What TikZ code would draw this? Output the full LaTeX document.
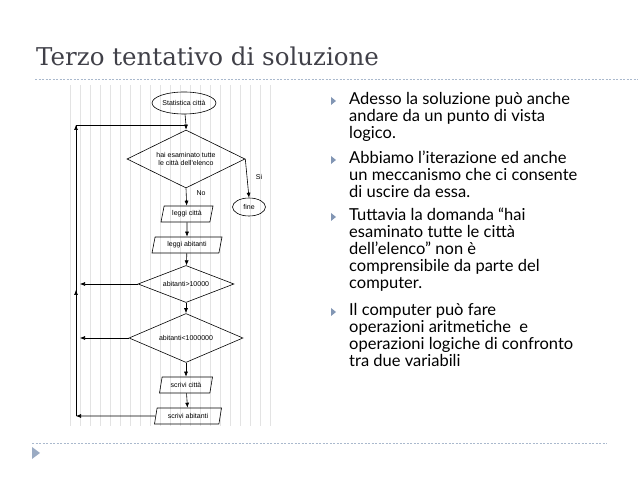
\documentclass[tikz,border=0pt]{standalone}
\usepackage{fontspec}
\setmainfont{DejaVu Serif}
\newfontfamily\bodyf{Lato}
\newfontfamily\flowf{Liberation Sans}
\usetikzlibrary{shapes.geometric,arrows.meta}
\definecolor{titlec}{RGB}{64,64,72}
\definecolor{linec}{RGB}{170,185,205}
\definecolor{bulc}{RGB}{130,150,180}
\begin{document}
\begin{tikzpicture}[x=1pt,y=-1pt,
  fl/.style={font=\flowf\fontsize{7}{8}\selectfont,draw=black,line width=0.6pt,inner sep=1pt},
  ov/.style={fl,ellipse,minimum width=#1,minimum height=22pt},
  para/.style={fl,trapezium,trapezium left angle=70,trapezium right angle=110,trapezium stretches body,minimum height=16pt,minimum width=#1,inner xsep=0pt},
  dia/.style={fl,diamond,aspect=2.6,inner sep=0pt},
  ar/.style={-{Latex[length=5pt,width=4pt]},line width=0.6pt},
  ln/.style={line width=0.6pt},
  btxt/.style={anchor=north west,font=\bodyf\fontsize{16.5}{17}\selectfont,align=left,inner sep=0pt}]
\useasboundingbox (0,0) rectangle (638,478);
% grid
\draw[gray!22,line width=0.4pt,step=10] (70,85) grid (272,426);
% title
\node[anchor=base west,inner sep=0pt,text=titlec,font=\fontsize{24.5}{28}\selectfont] (title) at (36,66) {Terzo tentativo di soluzione};
\draw[linec,dash pattern=on 2pt off 1.5pt] (35,79) -- (638,79);
\draw[linec,dash pattern=on 2pt off 1.5pt] (32,443) -- (607,443);
\fill[bulc!80] (32,447) -- (40,453) -- (32,459) -- cycle;
% flowchart
\node[ov=45pt] (start) at (184,103) {Statistica città};
\node[dia,minimum width=118pt,minimum height=58pt,align=center] (d1) at (186,159) {hai esaminato tutte\\le città dell'elenco};
\node[ov=33pt,minimum height=18pt] (fine) at (249,207) {fine};
\node[para=52pt] (lc) at (187,214) {leggi città};
\node[para=70pt] (la) at (187,245) {leggi abitanti};
\node[dia,minimum width=96pt,minimum height=37pt] (d2) at (186,284) {abitanti>10000};
\node[dia,minimum width=114pt,minimum height=49pt] (d3) at (186,338) {abitanti<1000000};
\node[para=53pt] (sc) at (186,385) {scrivi città};
\node[para=67pt] (sa) at (188,416) {scrivi abitanti};
\coordinate (top) at (186,125);
\coordinate (ltop) at (76,125);
\coordinate (lmid) at (76,290);
\coordinate (lbot) at (76,416);
\draw[ln] (start) -- (top);
\draw[ar] (top) -- (d1);
\draw[ar] (d1.south) -- (lc);
\draw[ar] (lc) -- (la);
\draw[ar] (la) -- (d2);
\draw[ar] (d2) -- (d3);
\draw[ar] (d3) -- (sc);
\draw[ar] (sc) -- (sa);
\draw[ar] (d1.east) -- (fine.north);
\draw[ar] (d2.west) -- (80,284);
\draw[ar] (d3.west) -- (80,338);
\draw[ar] (sa.west) -- (lbot);
\draw[ln] (lbot) -- (ltop) -- (top);
\draw[ar] (76,300) -- (lmid);
\draw[ar] (76,135) -- (ltop);
\node[font=\flowf\fontsize{7}{8}\selectfont] (no) at (201,193) {No};
\node[font=\flowf\fontsize{7}{8}\selectfont] (si) at (259,177) {Si};
% bullets
\foreach \y in {101,160,217,312} \fill[bulc] (331,\y-4) -- (336,\y) -- (331,\y+4) -- cycle;
\node[btxt] (b1) at (349,92) {Adesso la soluzione può anche\\andare da un punto di vista\\logico.};
\node[btxt] (b2) at (349,151) {Abbiamo l’iterazione ed anche\\un meccanismo che ci consente\\di uscire da essa.};
\node[btxt] (b3) at (349,208) {Tuttavia la domanda “hai\\esaminato tutte le città\\dell’elenco” non è\\comprensibile da parte del\\computer.};
\node[btxt] (b4) at (349,303) {Il computer può fare\\operazioni aritmetiche\ \ e\\operazioni logiche di confronto\\tra due variabili};
\end{tikzpicture}
\end{document}
